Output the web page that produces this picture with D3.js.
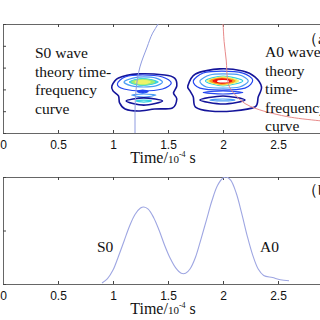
<!doctype html>
<html>
<head>
<meta charset="utf-8"/>
<script src="https://cdnjs.cloudflare.com/ajax/libs/d3/7.8.5/d3.min.js"></script>
<style>
  body { margin: 0; background: #fff; }
  svg { display: block; }
  .serif { font-family: "Liberation Serif", "Times New Roman", serif; fill: #111; }
  .tick text { font-family: "Liberation Sans", Arial, sans-serif; font-size: 12px; fill: #111; }
</style>
</head>
<body>
<svg width="320" height="320"></svg>
<script>
// time axis, 10^-4 s
var timeTicks = [0, 0.5, 1, 1.5, 2, 2.5];
var freqTicks = [0, 100, 200, 300, 400, 500];
var ampTicks = [0, 0.5, 1];

// (b) envelope amplitude vs time
var envT = [0.90, 0.95, 1.00, 1.05, 1.10, 1.15, 1.20, 1.25, 1.28, 1.32, 1.37, 1.42, 1.47, 1.52, 1.57, 1.62, 1.66, 1.70, 1.75, 1.80, 1.85, 1.90, 1.95, 2.00, 2.03, 2.07, 2.12, 2.17, 2.22, 2.27, 2.32, 2.37, 2.45, 2.52, 2.60];
var envA = [0.01, 0.05, 0.13, 0.26, 0.40, 0.54, 0.65, 0.71, 0.72, 0.70, 0.62, 0.50, 0.36, 0.24, 0.15, 0.10, 0.10, 0.14, 0.25, 0.42, 0.60, 0.78, 0.92, 0.99, 1.00, 0.97, 0.85, 0.66, 0.45, 0.27, 0.14, 0.08, 0.06, 0.04, 0.03];

// theory time-frequency curves (time, kHz)
var s0Theory = [[1.20, 0], [1.20, 100], [1.21, 200], [1.245, 303], [1.31, 394], [1.36, 458], [1.41, 500], [1.43, 520]];
var a0Theory = [[1.995, 520], [2.0, 500], [2.01, 420], [2.03, 330], [2.04, 250], [2.06, 210], [2.12, 170], [2.2, 135], [2.3, 112], [2.45, 90], [2.62, 72], [2.9, 55], [3.0, 50]];

// contour rings of the time-frequency map: level, points
var contourLevels = ["navy", "blue", "sky", "cyan", "green", "yellow", "orange", "red", "white"];
var levelColors = ["#14149a", "#2346f0", "#4a9cf5", "#35d0e0", "#9eec78", "#eef46a", "#ff9a20", "#f01010", "#ffffff"];

var s0Rings = [
  {level: "navy", pts: [[0.99,216],[1.05,252],[1.23,271],[1.47,266],[1.56,252],[1.58,216],[1.55,183],[1.58,156],[1.54,115],[1.38,110],[1.23,101],[1.11,110],[1.06,138],[1.05,170],[1.00,193]]},
  {level: "blue", pts: [[1.04,225],[1.11,257],[1.27,266],[1.45,257],[1.53,229],[1.45,202],[1.27,193],[1.10,202]]},
  {level: "sky", pts: [[1.10,234],[1.18,252],[1.28,257],[1.39,252],[1.45,234],[1.39,216],[1.28,211],[1.17,216]]},
  {level: "cyan", fill: true, pts: [[1.15,234],[1.27,250],[1.41,234],[1.27,218]]},
  {level: "green", fill: true, pts: [[1.17,234],[1.27,246],[1.38,234],[1.27,222]]},
  {level: "yellow", fill: true, pts: [[1.20,234],[1.27,242],[1.34,234],[1.27,226]]},
  {level: "blue", fill: true, pts: [[1.22,190],[1.27,197],[1.32,190],[1.27,183]]},
  {level: "sky", pts: [[1.17,174],[1.28,179],[1.39,174],[1.28,165]]},
  {level: "navy", pts: [[1.12,147],[1.28,161],[1.45,147],[1.28,128]]},
  {level: "cyan", pts: [[1.21,147],[1.28,151],[1.35,147],[1.28,142]]}
];

var a0Rings = [
  {level: "navy", pts: [[1.68,216],[1.75,271],[1.97,294],[2.18,284],[2.29,257],[2.35,211],[2.32,165],[2.29,119],[2.09,101],[1.88,101],[1.75,119],[1.73,165],[1.70,193]]},
  {level: "blue", pts: [[1.73,239],[1.82,275],[1.99,284],[2.18,275],[2.27,243],[2.20,206],[1.99,197],[1.79,206]]},
  {level: "sky", pts: [[1.79,239],[1.88,266],[2.00,271],[2.15,266],[2.23,239],[2.15,211],[2.00,206],[1.85,211]]},
  {level: "cyan", pts: [[1.84,239],[2.00,261],[2.18,239],[2.00,216]]},
  {level: "yellow", fill: true, pts: [[1.86,239],[2.00,257],[2.14,239],[2.00,220]]},
  {level: "orange", fill: true, pts: [[1.88,239],[1.99,252],[2.11,239],[1.99,224]]},
  {level: "red", fill: true, pts: [[1.91,239],[1.99,248],[2.08,239],[1.99,229]]},
  {level: "white", fill: true, pts: [[1.95,237],[2.00,240],[2.05,237],[2.00,234]]},
  {level: "blue", pts: [[1.82,186],[2.00,193],[2.18,186],[2.00,179]]},
  {level: "navy", pts: [[1.79,151],[2.00,170],[2.20,151],[2.00,133]]},
  {level: "sky", pts: [[1.88,151],[2.00,156],[2.11,151],[2.00,147]]}
];

var svg = d3.select("svg");
var colorScale = d3.scaleOrdinal().domain(contourLevels).range(levelColors);

var x = d3.scaleLinear().domain([0, 3]).range([3, 333]);
var yTop = d3.scaleLinear().domain([0, 500]).range([133, 24]);
var yBot = d3.scaleLinear().domain([0, 1]).range([284, 177]);

function frame(y, yTicks, id) {
  var g = svg.append("g");
  svg.append("clipPath").attr("id", id).append("rect")
    .attr("x", x(0)).attr("y", y.range()[1])
    .attr("width", x(3) - x(0)).attr("height", y.range()[0] - y.range()[1]);
  g.append("g").attr("transform", "translate(0," + y.range()[0] + ")")
    .call(d3.axisBottom(x).tickValues(timeTicks).tickSizeInner(-3).tickSizeOuter(0).tickPadding(7)
      .tickFormat(d3.format("")));
  g.append("g").attr("transform", "translate(0," + y.range()[1] + ")")
    .call(d3.axisTop(x).tickValues(timeTicks).tickSizeInner(-3).tickSizeOuter(0).tickFormat(""));
  g.append("g").attr("transform", "translate(" + x(0) + ",0)")
    .call(d3.axisLeft(y).tickValues(yTicks).tickSizeInner(-3).tickSizeOuter(0).tickFormat(""));
  g.selectAll(".domain").attr("stroke", "#666");
  g.selectAll(".tick line").attr("stroke", "#444");
  return g;
}

frame(yTop, freqTicks, "clipTop");
frame(yBot, ampTicks, "clipBot");

// contours
var ring = d3.line().x(d => x(d[0])).y(d => yTop(d[1])).curve(d3.curveCardinalClosed.tension(0.1));
var cg = svg.append("g").attr("clip-path", "url(#clipTop)");
cg.selectAll("path.ring")
  .data(s0Rings.concat(a0Rings))
  .enter().append("path")
  .attr("class", "ring")
  .attr("d", d => ring(d.pts))
  .attr("fill", d => d.fill ? colorScale(d.level) : "none")
  .attr("stroke", d => colorScale(d.level))
  .attr("stroke-width", d => d.level == "navy" ? 1.6 : 1.2);

var theory = d3.line().x(d => x(d[0])).y(d => yTop(d[1])).curve(d3.curveMonotoneY);
cg.append("path").attr("d", theory(s0Theory))
  .attr("fill", "none").attr("stroke", "#8e9be0").attr("stroke-width", 1);
cg.append("path").attr("d", d3.line().x(d => x(d[0])).y(d => yTop(d[1])).curve(d3.curveCatmullRom)(a0Theory))
  .attr("fill", "none").attr("stroke", "#e88a8a").attr("stroke-width", 1);

// envelope
var env = envT.map((t, i) => [t, envA[i]]);
svg.append("path")
  .attr("clip-path", "url(#clipBot)")
  .attr("d", d3.line().x(d => x(d[0])).y(d => yBot(d[1])).curve(d3.curveCatmullRom)(env))
  .attr("fill", "none").attr("stroke", "#9ea6e2").attr("stroke-width", 1.1);

// text
function lines(x0, y0, arr) {
  var t = svg.append("text").attr("class", "serif").attr("font-size", 15.5);
  arr.forEach((s, i) => t.append("tspan").attr("x", x0).attr("y", y0 + i * 18.5).text(s));
}
lines(35, 58, ["S0 wave", "theory time-", "frequency", "curve"]);
lines(265, 57, ["A0 wave", "theory", "time-", "frequency", "curve"]);
svg.append("text").attr("class", "serif").attr("x", 302).attr("y", 44).attr("font-size", 15.5).text("（a）");
svg.append("text").attr("class", "serif").attr("x", 302).attr("y", 195).attr("font-size", 15.5).text("（b）");
svg.append("text").attr("class", "serif").attr("x", 97).attr("y", 252).attr("font-size", 15.5).text("S0");
svg.append("text").attr("class", "serif").attr("x", 260).attr("y", 252).attr("font-size", 15.5).text("A0");

function timeLabel(yb) {
  var t = svg.append("text").attr("class", "serif").attr("x", 163).attr("y", yb)
    .attr("text-anchor", "middle").attr("font-size", 16);
  t.append("tspan").text("Time/");
  t.append("tspan").attr("font-size", 11).text("10");
  t.append("tspan").attr("font-size", 8).attr("dy", -6).text("-4");
  t.append("tspan").attr("dy", 6).text(" s");
}
timeLabel(163);
timeLabel(314);
</script>
</body>
</html>
